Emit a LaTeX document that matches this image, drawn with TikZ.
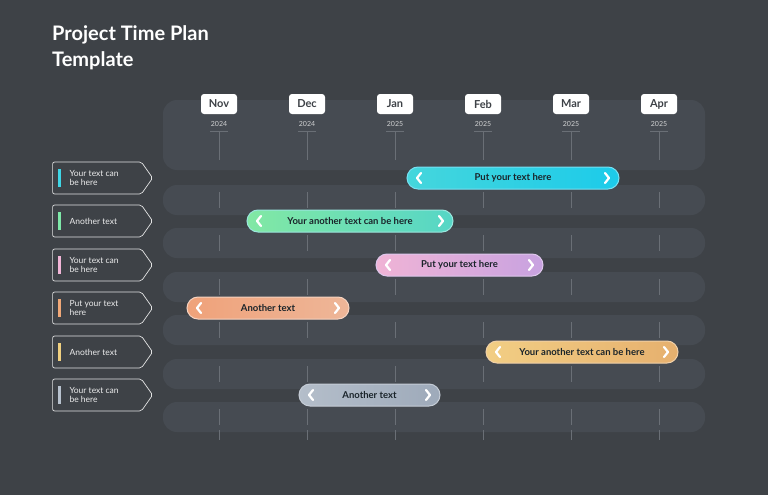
\documentclass[tikz,border=0pt]{standalone}
\usepackage{fontspec}
\setmainfont{Lato}
\usetikzlibrary{shapes.symbols}
\definecolor{bg}{HTML}{3E4247}
\definecolor{band}{HTML}{464B52}
\definecolor{tick}{HTML}{6A6F76}
\definecolor{dtext}{HTML}{1A242A}
\definecolor{c1a}{HTML}{45D6DC}\definecolor{c1b}{HTML}{1CCBEA}
\definecolor{c2a}{HTML}{82E8A4}\definecolor{c2b}{HTML}{56D6C6}
\definecolor{c3a}{HTML}{F0B4D6}\definecolor{c3b}{HTML}{C8A2E0}
\definecolor{c4a}{HTML}{EFA27A}\definecolor{c4b}{HTML}{EEB698}
\definecolor{c5a}{HTML}{F2CE84}\definecolor{c5b}{HTML}{E6B06E}
\definecolor{c6a}{HTML}{B4BECA}\definecolor{c6b}{HTML}{9EAABA}
\tikzset{
 bandbox/.style={fill=band,rounded corners=14pt,draw=none},
 month/.style={fill=white,rounded corners=3pt,minimum width=36pt,minimum height=20pt,inner sep=0pt,font=\bfseries\fontsize{11}{11}\selectfont,text=bg},
 year/.style={font=\fontsize{7}{7}\selectfont,text=white!75!bg},
 lab/.style={draw=white!85!bg,line width=0.7pt,signal,signal to=east,signal pointer angle=110,minimum width=100pt,minimum height=32pt,inner sep=0pt,rounded corners=2pt},
 labtxt/.style={font=\fontsize{8.5}{9.5}\selectfont,text=white!90!bg,align=left,anchor=west},
 bartxt/.style={font=\bfseries\fontsize{9.5}{9.5}\selectfont,text=dtext},
 chev/.style={white,line width=2.2pt,line cap=round,line join=round},
}
\newcommand{\gbar}[6]{% name, x1, x2, y, left col, right col
 \shade[left color=#5,right color=#6,rounded corners=11pt,draw=white!40!#6,line width=1pt] (#2,#4-11) rectangle (#3,#4+11);
 \node[inner sep=0pt] (#1) at ({(#2+#3)/2},#4) {};
 \draw[chev] (#2+14,#4-5) -- (#2+10,#4) -- (#2+14,#4+5);
 \draw[chev] (#3-14,#4-5) -- (#3-10,#4) -- (#3-14,#4+5);
}
\begin{document}
\begin{tikzpicture}[x=1pt,y=-1pt]
\fill[bg] (0,0) rectangle (768,495);
\useasboundingbox (0,0) rectangle (768,495);
\node[anchor=north west,font=\bfseries\fontsize{20}{26}\selectfont,text=white,align=left,inner sep=0pt] (title) at (52,25) {Project Time Plan\\Template};
\fill[bandbox] (163,100) rectangle (705,170);
\foreach \y in {200,243,287,330,374,417}{\fill[bandbox] (163,\y-15) rectangle (705,\y+15);}
\foreach \m/\yr/\x [count=\i] in {Nov/2024/219,Dec/2024/307,Jan/2025/395,Feb/2025/483,Mar/2025/571,Apr/2025/659}{
 \node[month] (m\i) at (\x,104) {\m};
 \node[year] (y\i) at (\x,124) {\yr};
 \draw[tick,line width=0.6pt] (\x-9,131) -- (\x+9,131);
 \draw[tick,line width=0.6pt] (\x,131) -- (\x,160);
 \foreach \y in {200,243,287,330,374,417}{\draw[tick,line width=0.6pt] (\x,\y-8) -- (\x,\y+8);}
 \draw[tick,line width=0.6pt] (\x,430) -- (\x,440);
}
\foreach \t/\c/\y [count=\i] in {{Your text can\\be here}/3FD6E6/178,{Another text}/7EE8A8/221,{Your text can\\be here}/F2B6D8/265,{Put your text\\here}/F0A878/308,{Another text}/F0D080/352,{Your text can\\be here}/B8C2CE/395}{
 \node[lab] (l\i) at (97,\y) {};
 \definecolor{tc}{HTML}{\c}
 \fill[tc] (57.5,\y-9) rectangle (61,\y+9);
 \node[labtxt] (lt\i) at (66,\y) {\t};
}
\gbar{b1}{407}{619}{178}{c1a}{c1b}
\node[bartxt] at (b1) {Put your text here};
\gbar{b2}{247}{453}{221}{c2a}{c2b}
\node[bartxt] at (b2) {Your another text can be here};
\gbar{b3}{376}{543}{265}{c3a}{c3b}
\node[bartxt] at (b3) {Put your text here};
\gbar{b4}{187}{349}{308}{c4a}{c4b}
\node[bartxt] at (b4) {Another text};
\gbar{b5}{486}{678}{352}{c5a}{c5b}
\node[bartxt] at (b5) {Your another text can be here};
\gbar{b6}{299}{440}{395}{c6a}{c6b}
\node[bartxt] at (b6) {Another text};
\end{tikzpicture}
\end{document}
